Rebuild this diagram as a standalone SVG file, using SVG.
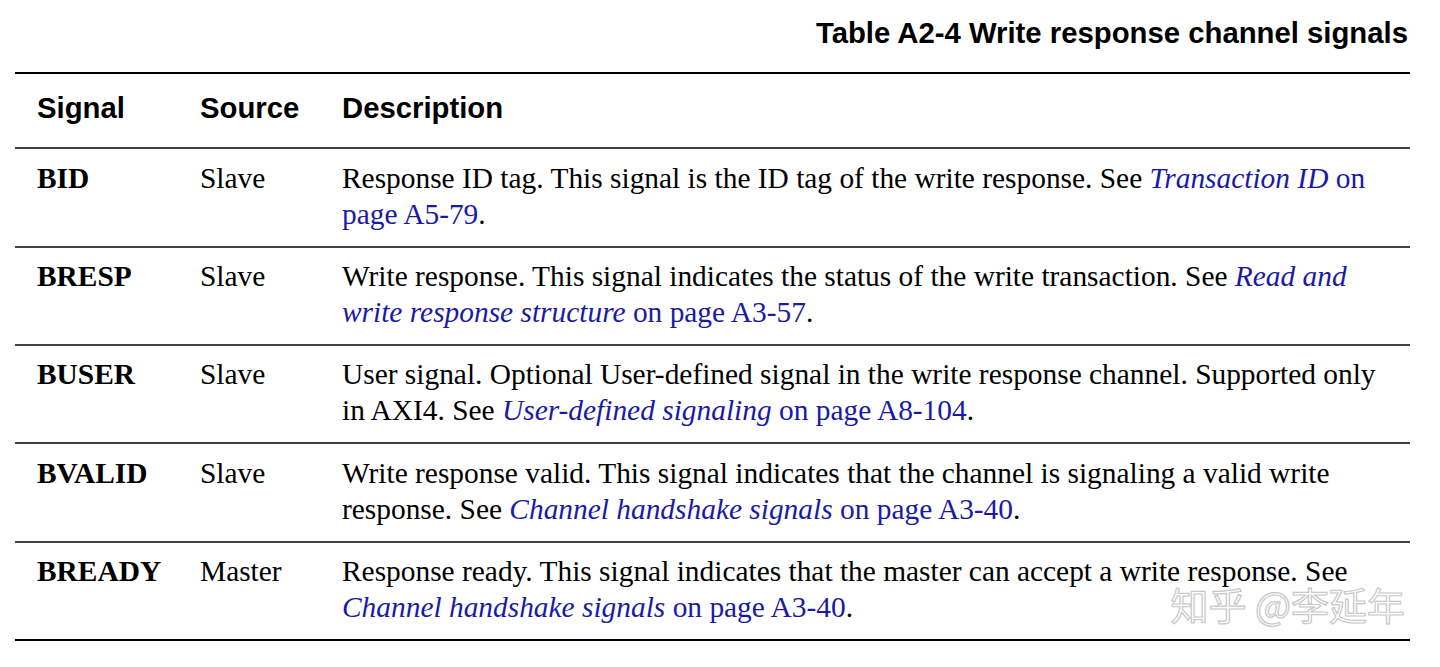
<svg xmlns="http://www.w3.org/2000/svg" width="1440" height="667" viewBox="0 0 1440 667">
<style>
.h{font-family:"Liberation Sans",Arial,sans-serif;font-weight:bold;font-size:29.3px;fill:#000}
.t{font-family:"Liberation Serif","Times New Roman",serif;font-size:29.4px;fill:#000}
.b{font-weight:bold}
.l{fill:#1a1aa8}
.i{font-style:italic}
.r{stroke:#000;stroke-width:1.3}
</style>
<rect width="1440" height="667" fill="#fff"/>
<text class="h" x="1408" y="43" text-anchor="end">Table A2-4 Write response channel signals</text>
<line x1="15" y1="73" x2="1410" y2="73" stroke="#000" stroke-width="2"/>
<text class="h" x="37" y="118">Signal</text>
<text class="h" x="200" y="118">Source</text>
<text class="h" x="342" y="118">Description</text>
<line class="r" x1="15" y1="148" x2="1410" y2="148"/>
<g id="row-bid">
<text class="t b" x="37" y="188">BID</text><text class="t" x="200" y="188">Slave</text>
<text class="t" x="342" y="188">Response ID tag. This signal is the ID tag of the write response. See <tspan class="l i">Transaction ID</tspan><tspan class="l"> on</tspan></text>
<text class="t" x="342" y="224"><tspan class="l">page A5-79</tspan>.</text>
</g>
<line class="r" x1="15" y1="247" x2="1410" y2="247"/>
<g id="row-bresp">
<text class="t b" x="37" y="286">BRESP</text><text class="t" x="200" y="286">Slave</text>
<text class="t" x="342" y="286">Write response. This signal indicates the status of the write transaction. See <tspan class="l i">Read and</tspan></text>
<text class="t" x="342" y="322"><tspan class="l i">write response structure</tspan><tspan class="l"> on page A3-57</tspan>.</text>
</g>
<line class="r" x1="15" y1="345" x2="1410" y2="345"/>
<g id="row-buser">
<text class="t b" x="37" y="384">BUSER</text><text class="t" x="200" y="384">Slave</text>
<text class="t" x="342" y="384">User signal. Optional User-defined signal in the write response channel. Supported only</text>
<text class="t" x="342" y="420">in AXI4. See <tspan class="l i">User-defined signaling</tspan><tspan class="l"> on page A8-104</tspan>.</text>
</g>
<line class="r" x1="15" y1="443" x2="1410" y2="443"/>
<g id="row-bvalid">
<text class="t b" x="37" y="483">BVALID</text><text class="t" x="200" y="483">Slave</text>
<text class="t" x="342" y="483">Write response valid. This signal indicates that the channel is signaling a valid write</text>
<text class="t" x="342" y="519">response. See <tspan class="l i">Channel handshake signals</tspan><tspan class="l"> on page A3-40</tspan>.</text>
</g>
<line class="r" x1="15" y1="542" x2="1410" y2="542"/>
<g id="row-bready">
<text class="t b" x="37" y="581">BREADY</text><text class="t" x="200" y="581">Master</text>
<text class="t" x="342" y="581">Response ready. This signal indicates that the master can accept a write response. See</text>
<text class="t" x="342" y="617"><tspan class="l i">Channel handshake signals</tspan><tspan class="l"> on page A3-40</tspan>.</text>
</g>
<line x1="15" y1="640" x2="1410" y2="640" stroke="#000" stroke-width="2"/>
<text x="1405" y="620" text-anchor="end" font-family="Noto Sans CJK SC,sans-serif" font-size="38" fill="#fff" stroke="#c8c8c8" stroke-width="1.2">知乎 @李延年</text>
</svg>
